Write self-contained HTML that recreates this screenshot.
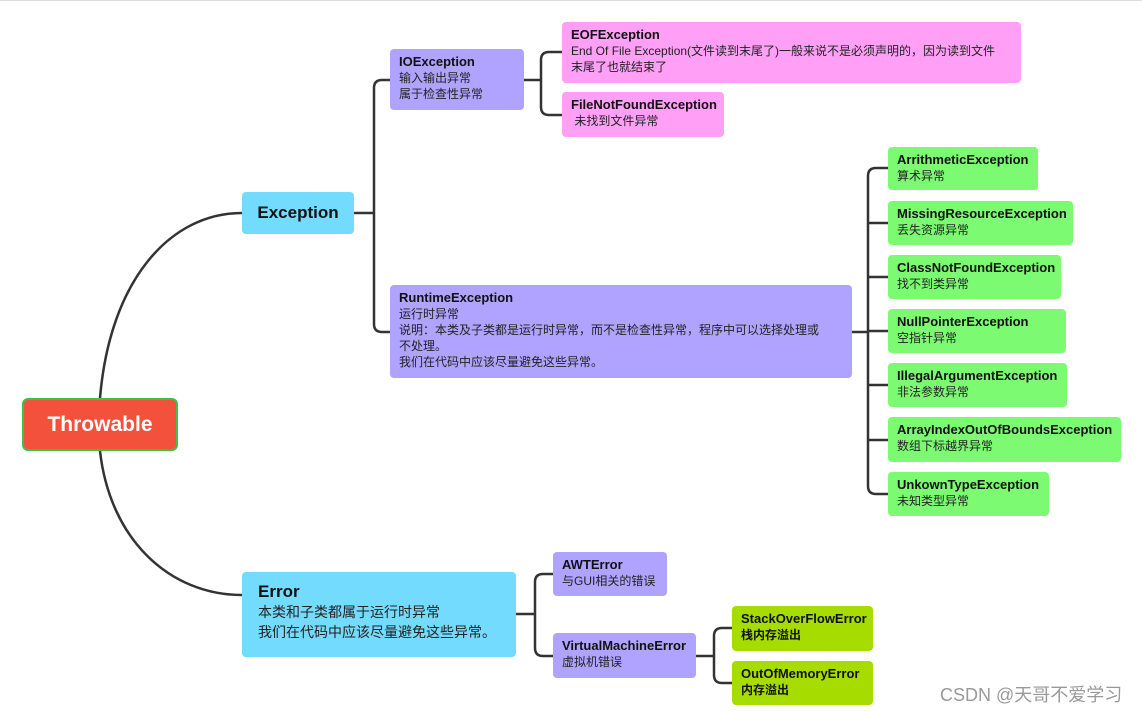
<!DOCTYPE html>
<html><head><meta charset="utf-8"><style>
body{margin:0;width:1142px;height:711px;background:#fff;position:relative;overflow:hidden;font-family:"Liberation Sans","Noto Sans CJK SC",sans-serif;}
.n{position:absolute;box-sizing:border-box;border-radius:4px;padding:5px 9px;font-size:12px;line-height:16px;color:#222;white-space:nowrap;}
.n b{font-size:13px;color:#111;}
.p{background:#b0a3ff}.k{background:#ff9ff6}.g{background:#7cfb72}.l{background:#a6dc00}.c{background:#73dbfd}
svg{position:absolute;left:0;top:0}
</style></head><body>
<div style="position:absolute;left:0;top:0;width:1142px;height:1px;background:#ddd"></div>
<svg width="1142" height="711" fill="none" stroke="#333" stroke-width="2.5">
<path d="M100 398 C110 280 170 213 242 213"/>
<path d="M100 451 C110 540 170 595 242 595"/>
<path d="M354 213 H374 M390 80 H382 Q374 80 374 88 V324 Q374 332 382 332 H390"/>
<path d="M524 80 H541 M562 52 H549 Q541 52 541 60 V107 Q541 115 549 115 H562"/>
<path d="M852 332 H868 M888 168 H876 Q868 168 868 176 V486 Q868 494 876 494 H888 M868 223 H888 M868 277 H888 M868 331 H888 M868 385 H888 M868 440 H888"/>
<path d="M516 614 H535 M553 574 H543 Q535 574 535 582 V648 Q535 656 543 656 H553"/>
<path d="M696 656 H714 M732 628 H722 Q714 628 714 636 V675 Q714 683 722 683 H732"/>
</svg>
<div class="n" style="left:22px;top:398px;width:156px;height:53px;background:#f4513c;border:2px solid #3bc24a;border-radius:6px;color:#fff;font-weight:bold;font-size:21px;line-height:49px;text-align:center;padding:0">Throwable</div>
<div class="n c" style="left:242px;top:192px;width:112px;height:42px;font-weight:bold;font-size:17px;line-height:32px;text-align:center;color:#111">Exception</div>
<div class="n p" style="left:390px;top:49px;width:134px;height:61px"><b>IOException</b><br>输入输出异常<br>属于检查性异常</div>
<div class="n k" style="left:562px;top:22px;width:459px;height:61px"><b>EOFException</b><br>End Of File Exception(文件读到末尾了)一般来说不是必须声明的，因为读到文件<br>末尾了也就结束了</div>
<div class="n k" style="left:562px;top:92px;width:162px;height:45px"><b>FileNotFoundException</b><br>&nbsp;未找到文件异常</div>
<div class="n p" style="left:390px;top:285px;width:462px;height:93px"><b>RuntimeException</b><br>运行时异常<br>说明：本类及子类都是运行时异常，而不是检查性异常，程序中可以选择处理或<br>不处理。<br>我们在代码中应该尽量避免这些异常。</div>
<div class="n g" style="left:888px;top:147px;width:150px;height:43px"><b>ArrithmeticException</b><br>算术异常</div>
<div class="n g" style="left:888px;top:201px;width:185px;height:44px"><b>MissingResourceException</b><br>丢失资源异常</div>
<div class="n g" style="left:888px;top:255px;width:173px;height:44px"><b>ClassNotFoundException</b><br>找不到类异常</div>
<div class="n g" style="left:888px;top:309px;width:178px;height:44px"><b>NullPointerException</b><br>空指针异常</div>
<div class="n g" style="left:888px;top:363px;width:179px;height:44px"><b>IllegalArgumentException</b><br>非法参数异常</div>
<div class="n g" style="left:888px;top:417px;width:233px;height:45px"><b>ArrayIndexOutOfBoundsException</b><br>数组下标越界异常</div>
<div class="n g" style="left:888px;top:472px;width:161px;height:44px"><b>UnkownTypeException</b><br>未知类型异常</div>
<div class="n c" style="left:242px;top:572px;width:274px;height:85px;padding:10px 16px;font-size:14px;line-height:20px"><b style="font-size:17px">Error</b><br>本类和子类都属于运行时异常<br>我们在代码中应该尽量避免这些异常。</div>
<div class="n p" style="left:553px;top:552px;width:114px;height:44px"><b>AWTError</b><br>与GUI相关的错误</div>
<div class="n p" style="left:553px;top:633px;width:143px;height:45px"><b>VirtualMachineError</b><br>虚拟机错误</div>
<div class="n l" style="left:732px;top:606px;width:141px;height:45px"><b>StackOverFlowError</b><br><b style="font-size:12px">栈内存溢出</b></div>
<div class="n l" style="left:732px;top:661px;width:141px;height:44px"><b>OutOfMemoryError</b><br><b style="font-size:12px">内存溢出</b></div>
<div style="position:absolute;left:940px;top:681px;font-size:18px;color:#999;white-space:nowrap">CSDN @天哥不爱学习</div>
</body></html>
